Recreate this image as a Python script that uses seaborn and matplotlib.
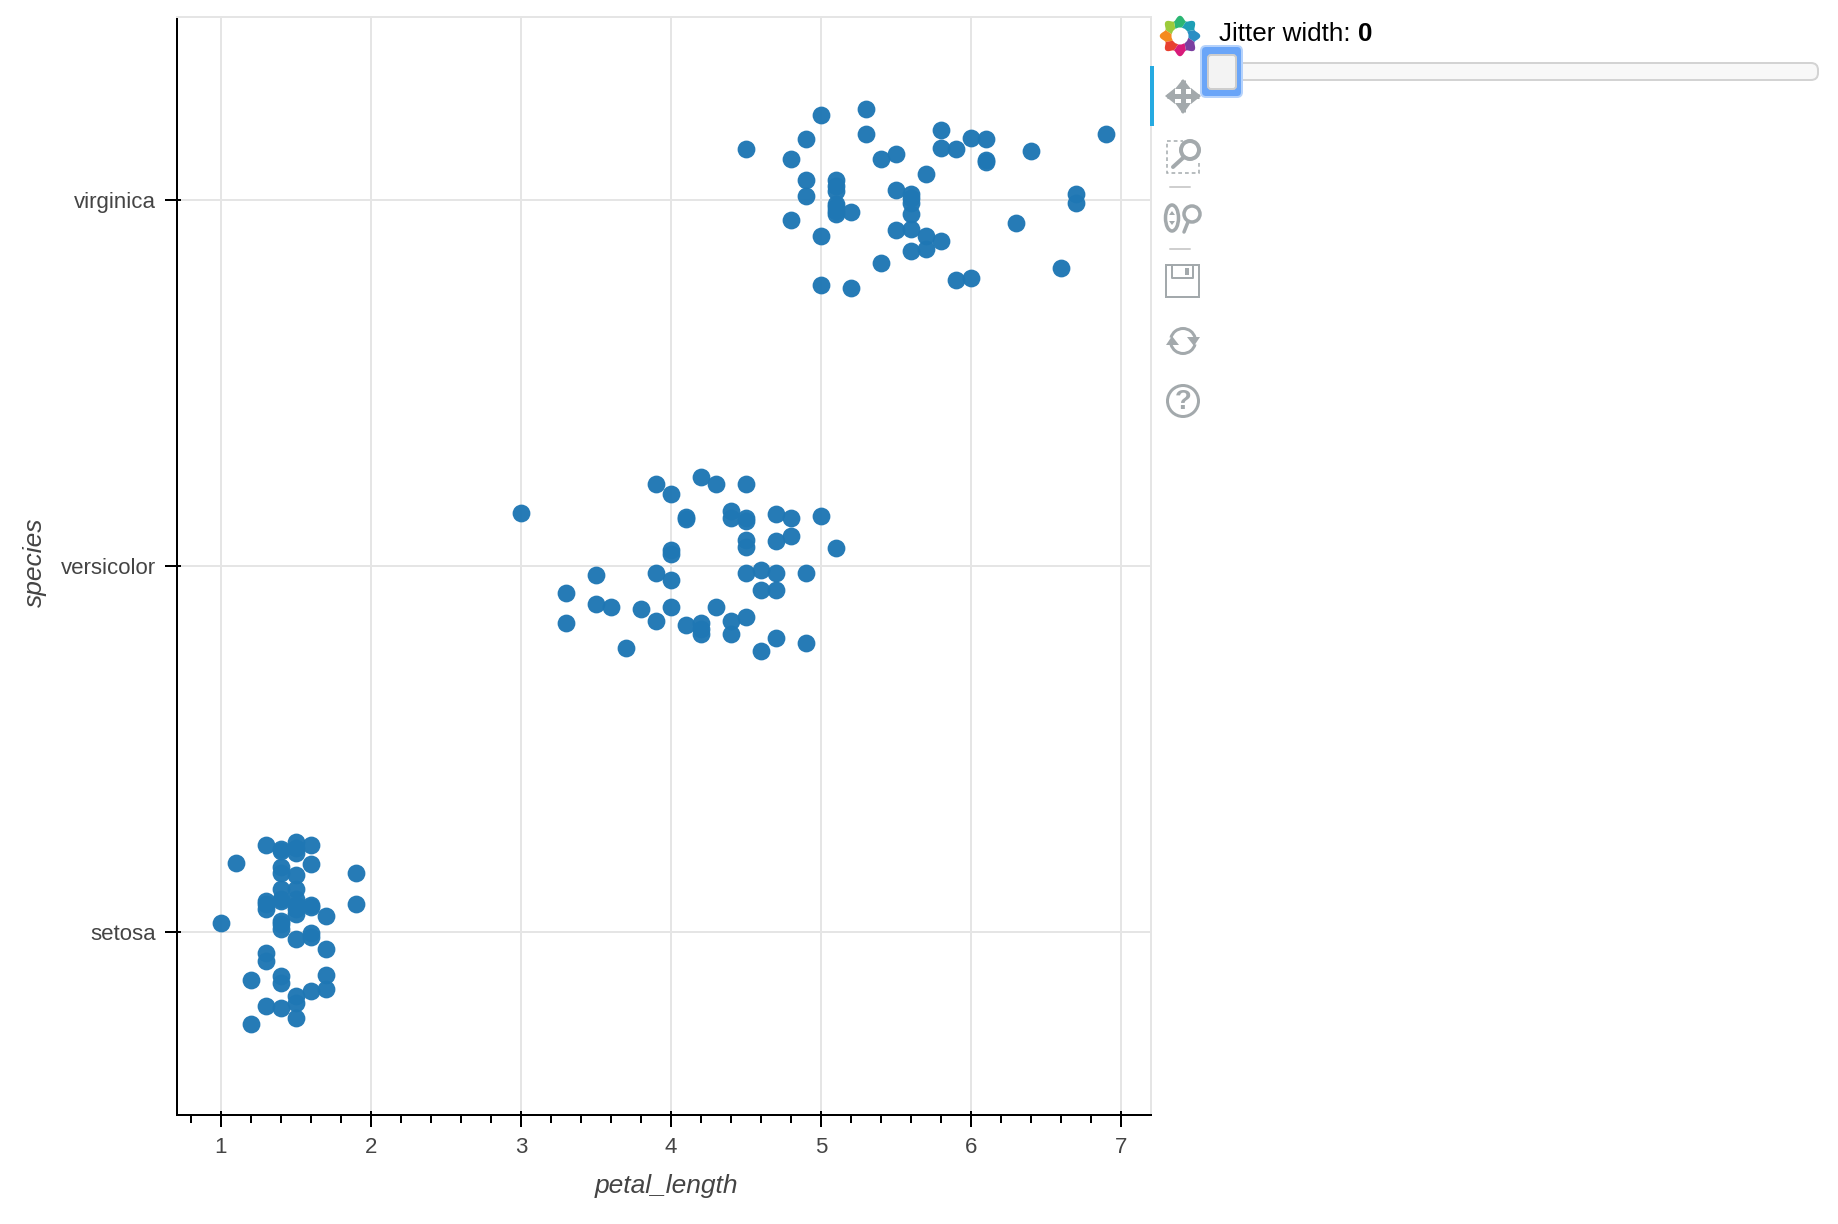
import numpy as np
import pandas as pd
import matplotlib
matplotlib.use('Agg')
import matplotlib.pyplot as plt
from matplotlib.patches import Arc, Circle, Ellipse, FancyBboxPatch, Polygon, Rectangle
import seaborn as sns

# petal length, jitter = offset from the category centre
setosa_x = [1.0, 1.1, 1.2, 1.2,
            1.3, 1.3, 1.3, 1.3, 1.3, 1.3, 1.3,
            1.4, 1.4, 1.4, 1.4, 1.4, 1.4, 1.4, 1.4, 1.4, 1.4, 1.4, 1.4, 1.4,
            1.5, 1.5, 1.5, 1.5, 1.5, 1.5, 1.5, 1.5, 1.5, 1.5, 1.5, 1.5, 1.5,
            1.6, 1.6, 1.6, 1.6, 1.6, 1.6, 1.6,
            1.7, 1.7, 1.7, 1.7, 1.9, 1.9]
setosa_jitter = [.025, .188, -.130, -.250,
                 .238, .085, .076, .064, -.058, -.079, -.202,
                 .228, .221, .178, .162, .118, .089, .085, .030, .021, .007, -.120, -.140, -.209,
                 .246, .230, .217, .155, .117, .089, .073, .062, .050, -.020, -.175, -.193, -.234,
                 .239, .187, .073, .069, -.004, -.013, -.162,
                 .043, -.046, -.117, -.155, .161, .076]

versicolor_x = [3.0, 3.3, 3.3, 3.5, 3.5, 3.6, 3.7, 3.8, 3.9, 3.9, 3.9,
                4.0, 4.0, 4.0, 4.0, 4.0, 4.1, 4.1, 4.1,
                4.2, 4.2, 4.2, 4.2, 4.3, 4.3, 4.4, 4.4, 4.4, 4.4,
                4.5, 4.5, 4.5, 4.5, 4.5, 4.5, 4.5, 4.6, 4.6, 4.6,
                4.7, 4.7, 4.7, 4.7, 4.7, 4.8, 4.8, 4.9, 4.9, 5.0, 5.1]
versicolor_jitter = [.144, -.074, -.156, -.024, -.104, -.113, -.224, -.118, .224, -.018, -.151,
                     .197, .045, .034, -.038, -.112, .135, .128, -.161,
                     .242, -.155, -.171, -.187, .224, -.113, .150, .132, -.149, -.187,
                     .224, .132, .124, .070, .053, -.020, -.138, -.011, -.065, -.231,
                     .141, .068, -.019, -.066, -.196, .132, .083, -.019, -.211, .137, .048]

virginica_x = [4.5, 4.8, 4.8, 4.9, 4.9, 4.9, 5.0, 5.0, 5.0,
               5.1, 5.1, 5.1, 5.1, 5.1, 5.1, 5.1, 5.2, 5.2, 5.3, 5.3, 5.4, 5.4,
               5.5, 5.5, 5.5, 5.6, 5.6, 5.6, 5.6, 5.6, 5.6, 5.7, 5.7, 5.7,
               5.8, 5.8, 5.8, 5.9, 5.9, 6.0, 6.0, 6.1, 6.1, 6.1,
               6.3, 6.4, 6.6, 6.7, 6.7, 6.9]
virginica_jitter = [.138, .112, -.054, .167, .054, .010, .233, -.097, -.232,
                    .054, .039, .024, -.011, -.020, -.029, -.038, -.033, -.241, .248, .180, .113, -.173,
                    .125, .026, -.081, .016, .005, -.008, -.038, -.079, -.140, .070, -.099, -.134,
                    .190, .142, -.111, .140, -.218, .169, -.213, .167, .109, .103,
                    -.064, .133, -.186, .016, -.008, .181]

species = ['setosa', 'versicolor', 'virginica']
x_ticks = [1, 2, 3, 4, 5, 6, 7]

rows = []
for i, (xs, js) in enumerate([(setosa_x, setosa_jitter), (versicolor_x, versicolor_jitter), (virginica_x, virginica_jitter)]):
    rows.append(pd.DataFrame({'petal_length': xs, 'pos': i + 0.5 + np.array(js)}))
df = pd.concat(rows, ignore_index=True)

sns.set_theme(style='white')
plt.rcParams['font.family'] = ['Liberation Sans', 'DejaVu Sans']

W, H = 1838, 1224
px = 72 / 100  # one pixel in points
fig = plt.figure(figsize=(W / 100, H / 100), dpi=100)
L, R, T, B = 177, 1151, 17, 1115
ax = fig.add_axes([L / W, 1 - B / H, (R - L) / W, (B - T) / H])

sns.scatterplot(data=df, x='petal_length', y='pos', ax=ax, color='#1f77b4', s=(17.8 * px) ** 2,
                linewidth=0, alpha=0.97, zorder=3, clip_on=False)

ax.set_xlim(0.707, 7.2)
ax.set_ylim(0, 3)
ax.set_xticks(x_ticks)
ax.set_xticks(np.arange(0.8, 7.2, 0.2), minor=True)
ax.set_yticks([0.5, 1.5, 2.5])
ax.set_yticklabels(species)

grid_c = '#e5e5e5'
ax.grid(True, which='major', color=grid_c, linewidth=2 * px)
ax.set_axisbelow(True)
for side in ['top', 'right']:
    ax.spines[side].set_color(grid_c)
    ax.spines[side].set_linewidth(2 * px)
for side in ['left', 'bottom']:
    ax.spines[side].set_color('black')
    ax.spines[side].set_linewidth(2 * px)

ax.tick_params(axis='both', which='major', length=12 * px, width=2 * px, color='black',
               labelsize=16, labelcolor='#444444', bottom=True, left=True, direction='out')
ax.tick_params(axis='x', which='major', pad=10 * px)
ax.tick_params(axis='y', which='major', pad=9 * px)
ax.tick_params(axis='x', which='minor', length=8 * px, width=2 * px, color='black', bottom=True)
# major ticks poke 4px into the frame
ax.vlines(x_ticks, 0, 4 / 366, color='black', linewidth=2 * px, zorder=2.5)
ax.hlines([0.5, 1.5, 2.5], 0.707, 0.707 + 4 / 150, color='black', linewidth=2 * px, zorder=2.5)

ax.set_xlabel('petal_length', fontsize=19, style='italic', color='#444444', va='center')
ax.set_ylabel('species', fontsize=19, style='italic', color='#444444', va='center')
ax.xaxis.set_label_coords(0.502, -(1186 - B) / (B - T))
ax.yaxis.set_label_coords(-(L - 35) / (R - L), 0.503)

# toolbar and slider, drawn in pixel coordinates over the whole figure
ui = fig.add_axes([0, 0, 1, 1], zorder=5)
ui.set_xlim(0, W)
ui.set_ylim(H, 0)
ui.axis('off')
ui.patch.set_alpha(0)

icon = '#a3a9ac'
ui.add_patch(Rectangle((1150, 66), 4, 60, color='#26aae1', linewidth=0))

# logo, a ring of eight coloured petals
logo_c = ['#2a8fc4', '#1e9fb5', '#2bb673', '#9ccb3b', '#f58a1f', '#e8402f', '#d81b7a', '#7b3fa0']
for k, c in enumerate(logo_c):
    a = k * 45
    angles = np.deg2rad(np.linspace(a - 22.5, a + 22.5, 13))
    radii = 18 + 2.3 * np.cos(8 * (angles - np.deg2rad(a)))
    outer = [(1180 + r * np.cos(t), 36 - r * np.sin(t)) for r, t in zip(radii, angles)]
    inner = [(1180 + 5 * np.cos(t + 0.5), 36 - 5 * np.sin(t + 0.5)) for t in angles[::-1]]
    ui.add_patch(Polygon(outer + inner, closed=True, color=c, linewidth=0))
ui.add_patch(Circle((1180, 36), 8.5, color='white', linewidth=0))

# pan
ui.plot([1167, 1199], [96, 96], color=icon, lw=5 * px, solid_capstyle='butt')
ui.plot([1183, 1183], [80, 112], color=icon, lw=5 * px, solid_capstyle='butt')
for p in [[(1183, 79), (1175, 89), (1191, 89)], [(1183, 114), (1175, 103), (1191, 103)],
          [(1165, 96), (1175, 88), (1175, 104)], [(1201, 96), (1191, 88), (1191, 104)]]:
    ui.add_patch(Polygon(p, color=icon, linewidth=0))

# box zoom
ui.add_patch(Rectangle((1167, 141), 32, 32, fill=False, edgecolor=icon, lw=1.5 * px, linestyle=(0, (2.5, 2))))
ui.add_patch(Rectangle((1183, 138), 18, 24, color='white', linewidth=0))
ui.add_patch(Circle((1190, 150), 9, fill=False, edgecolor=icon, lw=4 * px))
ui.plot([1184, 1173], [157, 167], color=icon, lw=4 * px)

ui.plot([1170, 1190], [187, 187], color='#cfcfcf', lw=2 * px)
ui.plot([1170, 1190], [249, 249], color='#cfcfcf', lw=2 * px)

# wheel zoom
ui.add_patch(Ellipse((1172, 218), 13, 26, fill=False, edgecolor=icon, lw=3.5 * px))
ui.add_patch(Polygon([(1172, 211), (1169, 215), (1175, 215)], color=icon, linewidth=0))
ui.add_patch(Polygon([(1172, 225), (1169, 221), (1175, 221)], color=icon, linewidth=0))
ui.add_patch(Circle((1192, 214), 8, fill=False, edgecolor=icon, lw=3.5 * px))
ui.plot([1188, 1184], [222, 232], color=icon, lw=3.5 * px)

# save
ui.add_patch(Rectangle((1166, 265), 33, 32, fill=False, edgecolor=icon, lw=2 * px))
ui.plot([1172, 1172, 1193, 1193], [265, 278, 278, 265], color=icon, lw=2 * px)
ui.add_patch(Rectangle((1185, 268), 4, 7, color=icon, linewidth=0))

# reset
ui.add_patch(Arc((1183, 341), 25, 25, theta1=195, theta2=345, edgecolor=icon, lw=3 * px))
ui.add_patch(Arc((1183, 341), 25, 25, theta1=15, theta2=165, edgecolor=icon, lw=3 * px))
ui.add_patch(Polygon([(1187, 337), (1200, 337), (1194, 346)], color=icon, linewidth=0))
ui.add_patch(Polygon([(1166, 345), (1179, 345), (1172, 336)], color=icon, linewidth=0))

# help
ui.add_patch(Circle((1183, 401), 15.5, fill=False, edgecolor=icon, lw=3 * px))
ui.text(1183, 402, '?', fontsize=20, fontweight='bold', color=icon, ha='center', va='center')

# slider
ui.add_patch(FancyBboxPatch((1214, 63), 604, 17, boxstyle='round,pad=0,rounding_size=7',
                            facecolor='#f8f8f8', edgecolor='#d3d3d3', lw=2 * px))
ui.add_patch(FancyBboxPatch((1201, 46), 41, 51, boxstyle='round,pad=0,rounding_size=5',
                            facecolor='#6aa5f8', edgecolor='#b5d2fb', lw=2 * px))
ui.add_patch(FancyBboxPatch((1208, 55), 28, 34, boxstyle='round,pad=0,rounding_size=3',
                            facecolor='#f3f3f3', edgecolor='#cdcdcd', lw=2 * px))

# slider title, the value is bold
title = ui.text(1219, 41, 'Jitter width: ', fontsize=18.7, color='black', va='baseline')
renderer = fig.canvas.get_renderer()
x_end = ui.transData.inverted().transform(title.get_window_extent(renderer).get_points())[1, 0]
ui.text(x_end, 41, '0', fontsize=18.7, fontweight='bold', color='black', va='baseline')

fig.savefig('out.png', dpi=100, facecolor='white')
